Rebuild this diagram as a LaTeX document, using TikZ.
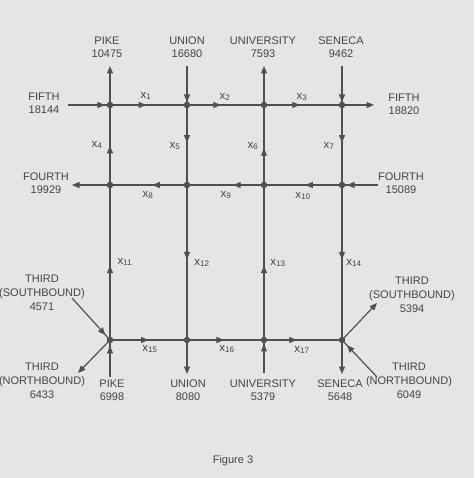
\documentclass[tikz,border=0pt]{standalone}
\usepackage{fontspec}
\setmainfont{Liberation Sans}
\usetikzlibrary{arrows.meta,decorations.markings}
\definecolor{bg}{HTML}{E5E5E3}
\definecolor{ink}{HTML}{505050}
\definecolor{txt}{HTML}{444444}
\tikzset{
  street/.style={draw=ink, line width=1.2pt},
  arrowat/.style={postaction={decorate},decoration={markings,mark=at position #1 with {\arrow{Triangle[length=7.5pt,width=6pt]}}}},
  endarrow/.style={-{Triangle[length=7.5pt,width=6pt]}},
  jn/.style={circle, fill=ink, inner sep=0pt, minimum size=6.5pt},
  lbl/.style={text=txt, font=\fontsize{11}{12.8}\selectfont, align=center, inner sep=0pt},
  lblt/.style={text=txt, font=\fontsize{11}{14.2}\selectfont, align=center, inner sep=0pt},
  xl/.style={text=txt, font=\fontsize{11.5}{12}\selectfont, inner sep=0pt},
}
\begin{document}
\begin{tikzpicture}[x=1pt,y=-1pt]
\fill[bg] (0,0) rectangle (474,478);
\useasboundingbox (0,0) rectangle (474,478);
% junctions
\coordinate (P5) at (110,105); \coordinate (U5) at (187,105); \coordinate (V5) at (264,105); \coordinate (S5) at (342,105);
\coordinate (P4) at (110,185); \coordinate (U4) at (187,185); \coordinate (V4) at (264,185); \coordinate (S4) at (342,185);
\coordinate (P3) at (110,340); \coordinate (U3) at (187,340); \coordinate (V3) at (264,340); \coordinate (S3) at (342,340);
% ends
\coordinate (Ptop) at (110,66); \coordinate (Utop) at (187,66); \coordinate (Vtop) at (264,66); \coordinate (Stop) at (342,66);
\coordinate (Pbot) at (110,377); \coordinate (Ubot) at (187,374); \coordinate (Vbot) at (264,373); \coordinate (Sbot) at (342,374);
\coordinate (Fl) at (68,105); \coordinate (Fr) at (374,105);
\coordinate (Gl) at (72,185); \coordinate (Gr) at (378,185);
\coordinate (TLs) at (72,298); \coordinate (TLn) at (78,373);
\coordinate (TRs) at (377,303); \coordinate (TRn) at (377,377);
% Fifth
\draw[street, arrowat=0.88] (Fl) -- (P5);
\draw[street, arrowat=0.47] (P5) -- (U5);
\draw[street, arrowat=0.44] (U5) -- (V5);
\draw[street, arrowat=0.46] (V5) -- (S5);
\draw[street, endarrow] (S5) -- (Fr);
% Fourth
\draw[street, arrowat=0.86] (Gr) -- (S4);
\draw[street, arrowat=0.47] (S4) -- (V4);
\draw[street, arrowat=0.40] (V4) -- (U4);
\draw[street, arrowat=0.45] (U4) -- (P4);
\draw[street, endarrow] (P4) -- (Gl);
% Third
\draw[street, arrowat=0.50] (P3) -- (U3);
\draw[street, arrowat=0.48] (U3) -- (V3);
\draw[street, arrowat=0.42] (V3) -- (S3);
% Pike
\draw[street, endarrow] (P5) -- (Ptop);
\draw[street, arrowat=0.49] (P4) -- (P5);
\draw[street, arrowat=0.48] (P3) -- (P4);
\draw[street, arrowat=0.84] (Pbot) -- (P3);
% Union
\draw[street, arrowat=0.92] (Utop) -- (U5);
\draw[street, arrowat=0.47] (U5) -- (U4);
\draw[street, arrowat=0.48] (U4) -- (U3);
\draw[street, endarrow] (U3) -- (Ubot);
% University
\draw[street, endarrow] (V5) -- (Vtop);
\draw[street, arrowat=0.46] (V4) -- (V5);
\draw[street, arrowat=0.48] (V3) -- (V4);
\draw[street, arrowat=0.88] (Vbot) -- (V3);
% Seneca
\draw[street, arrowat=0.92] (Stop) -- (S5);
\draw[street, arrowat=0.47] (S5) -- (S4);
\draw[street, arrowat=0.48] (S4) -- (S3);
\draw[street, endarrow] (S3) -- (Sbot);
% Third diagonals
\draw[street, arrowat=0.88] (TLs) -- (P3);
\draw[street, endarrow] (P3) -- (TLn);
\draw[street, endarrow] (S3) -- (TRs);
\draw[street, arrowat=0.86] (TRn) -- (S3);
% dots
\foreach \n in {P5,U5,V5,S5,P4,U4,V4,S4,P3,U3,V3,S3} \node[jn] (d\n) at (\n) {};
% street labels
\node[lbl] (lPt) at (107,47) {PIKE\\10475};
\node[lbl] (lUt) at (187,47) {UNION\\16680};
\node[lbl] (lVt) at (263,47) {UNIVERSITY\\7593};
\node[lbl] (lSt) at (341,47) {SENECA\\9462};
\node[lbl] (lFl) at (44,103) {FIFTH\\18144};
\node[lbl] (lFr) at (404,104) {FIFTH\\18820};
\node[lbl] (lGl) at (46,183) {FOURTH\\19929};
\node[lbl] (lGr) at (401,183) {FOURTH\\15089};
\node[lblt] (lTLs) at (42,293) {THIRD\\(SOUTHBOUND)\\4571};
\node[lblt] (lTLn) at (42,381) {THIRD\\(NORTHBOUND)\\6433};
\node[lblt] (lTRs) at (412,295) {THIRD\\(SOUTHBOUND)\\5394};
\node[lblt] (lTRn) at (409,381) {THIRD\\(NORTHBOUND)\\6049};
\node[lbl] (lPb) at (112,390) {PIKE\\6998};
\node[lbl] (lUb) at (188,390) {UNION\\8080};
\node[lbl] (lVb) at (263,390) {UNIVERSITY\\5379};
\node[lbl] (lSb) at (340,390) {SENECA\\5648};
% flow labels
\node[xl] (x1) at (146,96) {x\textsubscript{1}};
\node[xl] (x2) at (225,97) {x\textsubscript{2}};
\node[xl] (x3) at (302,97) {x\textsubscript{3}};
\node[xl] (x4) at (97,145) {x\textsubscript{4}};
\node[xl] (x5) at (175,146) {x\textsubscript{5}};
\node[xl] (x6) at (253,146) {x\textsubscript{6}};
\node[xl] (x7) at (329,146) {x\textsubscript{7}};
\node[xl] (x8) at (148,195) {x\textsubscript{8}};
\node[xl] (x9) at (226,195) {x\textsubscript{9}};
\node[xl] (x10) at (303,196) {x\textsubscript{10}};
\node[xl] (x11) at (125,262) {x\textsubscript{11}};
\node[xl] (x12) at (202,263) {x\textsubscript{12}};
\node[xl] (x13) at (278,263) {x\textsubscript{13}};
\node[xl] (x14) at (354,263) {x\textsubscript{14}};
\node[xl] (x15) at (150,349) {x\textsubscript{15}};
\node[xl] (x16) at (227,349) {x\textsubscript{16}};
\node[xl] (x17) at (302,350) {x\textsubscript{17}};
\node[lbl] (fig) at (233,461) {Figure 3};
\end{tikzpicture}
\end{document}
